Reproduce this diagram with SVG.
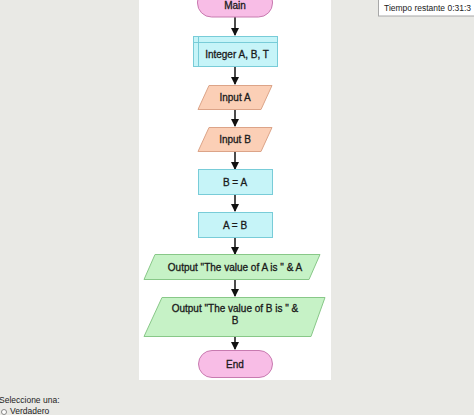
<svg xmlns="http://www.w3.org/2000/svg" width="474" height="415" viewBox="0 0 474 415">
<defs>
<marker id="ah" markerWidth="8" markerHeight="8" refX="7" refY="4" orient="auto" markerUnits="userSpaceOnUse">
<path d="M0,0 L8,4 L0,8 Z" fill="#111"/>
</marker>
<style>
text{font-family:"Liberation Sans",Arial,sans-serif;font-size:10px;fill:#1a1a1a;stroke:#1a1a1a;stroke-width:0.3;text-anchor:middle}
.t{fill:#f8bde6;stroke:#c87ab0;stroke-width:1}
.p{fill:#c6f4f8;stroke:#78ccd8;stroke-width:1}
.i{fill:#fbcfb6;stroke:#dca488;stroke-width:1}
.o{fill:#c6f2c6;stroke:#88c888;stroke-width:1}
.c{stroke:#111;stroke-width:1.5;fill:none;marker-end:url(#ah)}
text.ui{font-size:8.5px;text-anchor:start;fill:#222;stroke:none}
</style>
</defs>
<rect x="0" y="0" width="474" height="415" fill="#e9e9e5"/>
<rect x="139" y="-1" width="192" height="381" fill="#ffffff"/>
<g id="timer">
<rect x="378.5" y="-1" width="100" height="17" fill="#ffffff" stroke="#a8a8a8"/>
<text class="ui" x="384" y="11">Tiempo restante 0:31:3</text>
</g>
<g id="edges">
<line class="c" x1="235" y1="17" x2="235" y2="35"/>
<line class="c" x1="235" y1="67" x2="235" y2="84"/>
<line class="c" x1="235" y1="109" x2="235" y2="126"/>
<line class="c" x1="235" y1="152" x2="235" y2="169"/>
<line class="c" x1="235" y1="194" x2="235" y2="211"/>
<line class="c" x1="235" y1="237" x2="235" y2="254"/>
<line class="c" x1="235" y1="279" x2="235" y2="296"/>
<line class="c" x1="235" y1="337" x2="235" y2="349"/>
</g>
<g id="main">
<rect class="t" x="197.5" y="-12" width="75" height="29" rx="14"/>
<text x="235" y="9">Main</text>
</g>
<g id="decl">
<rect class="p" x="193.5" y="36.5" width="84" height="30"/>
<line x1="193.5" y1="42.5" x2="277.5" y2="42.5" stroke="#78ccd8"/>
<line x1="198.5" y1="36.5" x2="198.5" y2="66.5" stroke="#78ccd8"/>
<text x="237" y="58">Integer A, B, T</text>
</g>
<g id="inputA">
<polygon class="i" points="209,85.5 272,85.5 261,109.5 198,109.5"/>
<text x="235" y="101">Input A</text>
</g>
<g id="inputB">
<polygon class="i" points="209,127.5 272,127.5 261,151.5 198,151.5"/>
<text x="235" y="143">Input B</text>
</g>
<g id="assign1">
<rect class="p" x="198.5" y="169.5" width="74" height="25"/>
<text x="235" y="186">B = A</text>
</g>
<g id="assign2">
<rect class="p" x="198.5" y="212.5" width="74" height="25"/>
<text x="235" y="229">A = B</text>
</g>
<g id="outA">
<polygon class="o" points="155,254.5 320,254.5 309,279.5 144,279.5"/>
<text x="235" y="271">Output "The value of A is " &amp; A</text>
</g>
<g id="outB">
<polygon class="o" points="162,297.5 325,297.5 311,336.5 144,336.5"/>
<text x="235" y="312">Output "The value of B is " &amp;</text>
<text x="235" y="324">B</text>
</g>
<g id="end">
<rect class="t" x="198.5" y="350.5" width="74" height="27" rx="13.5"/>
<text x="235" y="368">End</text>
</g>
<g id="footer">
<text class="ui" x="-1" y="403">Seleccione una:</text>
<circle cx="4" cy="412" r="2.5" fill="#fff" stroke="#888"/>
<text class="ui" x="10" y="414" font-size="7px">Verdadero</text>
</g>
</svg>
